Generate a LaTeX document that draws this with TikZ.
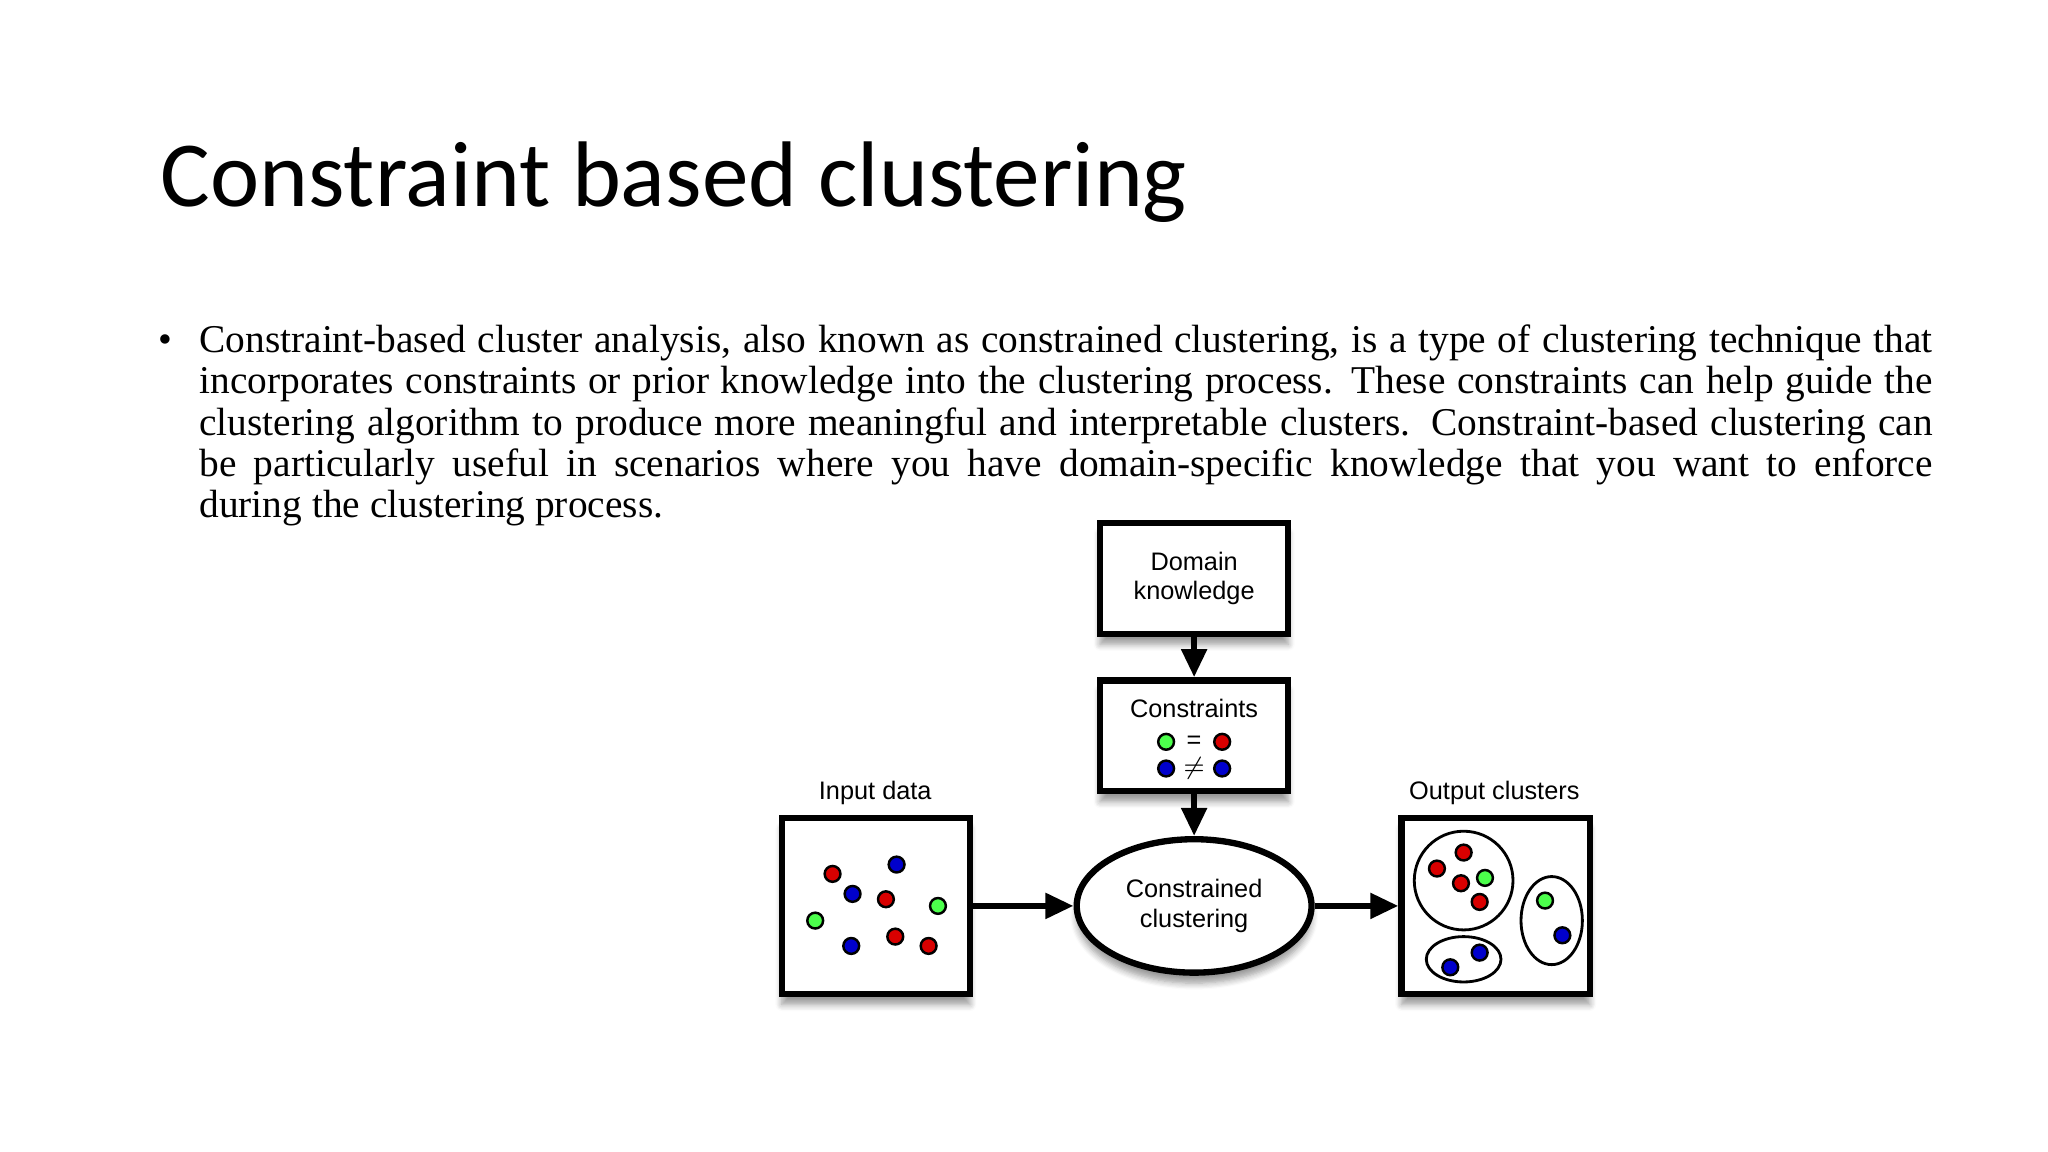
\documentclass[tikz,border=0pt]{standalone}
\usepackage{fontspec}
\setmainfont{Liberation Serif}
\newfontfamily\titlefont{Carlito}
\newfontfamily\diagfont{Liberation Sans}
\usetikzlibrary{shadows.blur,arrows.meta,shapes.geometric}
\newcommand{\jline}[1]{\makebox[\linewidth][s]{#1}\\}
\begin{document}
\begin{tikzpicture}[x=0.013342cm,y=-0.013342cm,
  box/.style={draw,line width=1.8pt,fill=white,minimum width=141*0.013342cm,blur shadow={shadow xshift=0pt,shadow yshift=-3pt,shadow blur steps=6}},
  lbl/.style={font=\diagfont\fontsize{7.2}{8.4}\selectfont,align=center},
  arr/.style={line width=1.8pt,-{Triangle[length=8pt,width=7pt]}},
  dot/.style={circle,draw,line width=0.7pt,inner sep=0pt,minimum size=4.5pt},
  R/.style={dot,fill=red!85!black}, G/.style={dot,fill=green!70!white}, B/.style={dot,fill=blue!80!black}]
\useasboundingbox (0,0) rectangle (1535,863.4);
\node[anchor=base west,inner sep=0pt,font=\titlefont\fontsize{26.5}{30}\selectfont] (title) at (120,155) {Constraint based clustering};
\node[anchor=north west,inner sep=0pt] (body) at (118,243) {\begin{minipage}[t]{1330\dimexpr0.013342cm\relax}\fontsize{11.2}{11.75}\selectfont
\makebox[31\dimexpr0.013342cm\relax][l]{•}\begin{minipage}[t]{1299\dimexpr0.013342cm\relax}
\jline{Constraint-based cluster analysis, also known as constrained clustering, is a type of clustering technique that}
\jline{incorporates constraints or prior knowledge into the clustering process. These constraints can help guide the}
\jline{clustering algorithm to produce more meaningful and interpretable clusters. Constraint-based clustering can}
\jline{be particularly useful in scenarios where you have domain-specific knowledge that you want to enforce}
during the clustering process.\end{minipage}\end{minipage}};
% boxes
\node[box,minimum height=83*0.013342cm,lbl] (dk) at (895,433.5) {Domain\\knowledge};
\node[box,minimum height=83*0.013342cm] (cs) at (895,551.5) {};
\node[lbl] (cst) at (895,531) {Constraints};
\node[G] (c1) at (874,556) {}; \node[lbl] (eq) at (895,556) {=}; \node[R] (c2) at (916,556) {};
\node[B] (c3) at (874,576) {}; \node[lbl] (ne) at (895,576) {$\neq$}; \node[B] (c4) at (916,576) {};
\node[draw,ellipse,line width=1.8pt,fill=white,minimum width=176*0.013342cm,minimum height=100*0.013342cm,lbl,blur shadow={shadow xshift=0pt,shadow yshift=-3pt,shadow blur steps=6}] (cc) at (895,679) {Constrained\\clustering};
\node[box,minimum height=132*0.013342cm] (in) at (656.5,679) {};
\node[box,minimum height=132*0.013342cm] (out) at (1121,679) {};
\node[lbl] (inl) at (656,594) {Input data};
\node[lbl] (outl) at (1120,594) {Output clusters};
\draw[arr] (dk) -- (cs);
\draw[arr] (cs) -- (cc);
\draw[arr] (in) -- (cc);
\draw[arr] (cc) -- (out);
% input dots
\node[R] (i1) at (624,655) {}; \node[B] (i2) at (672,648) {}; \node[B] (i3) at (639,670) {};
\node[R] (i4) at (664,674) {}; \node[G] (i5) at (703,679) {}; \node[G] (i6) at (611,690) {};
\node[B] (i7) at (638,709) {}; \node[R] (i8) at (671,702) {}; \node[R] (i9) at (696,709) {};
% output clusters
\draw[line width=0.8pt] (1097,660) circle (37);
\draw[line width=0.8pt] (1163,690) ellipse (23 and 33);
\draw[line width=0.8pt] (1097,719) ellipse (28 and 17);
\node[R] (o1) at (1097,639) {}; \node[R] (o2) at (1077,651) {}; \node[R] (o3) at (1095,662) {};
\node[G] (o4) at (1113,658) {}; \node[R] (o5) at (1109,676) {};
\node[G] (o6) at (1158,675) {}; \node[B] (o7) at (1171,701) {};
\node[B] (o8) at (1087,725) {}; \node[B] (o9) at (1109,714) {};
\end{tikzpicture}
\end{document}
